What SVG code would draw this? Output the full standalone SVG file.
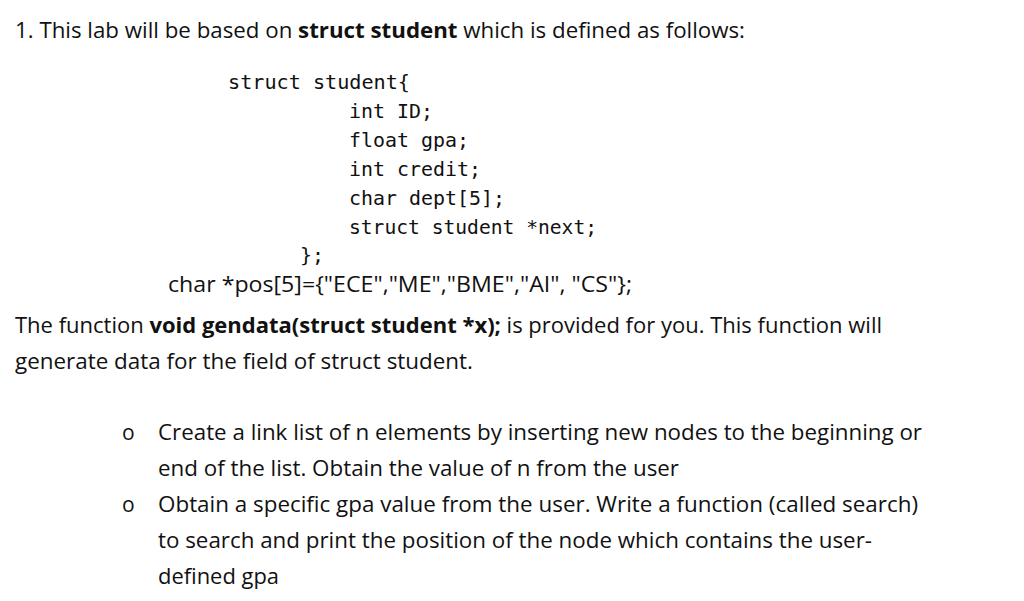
<svg xmlns="http://www.w3.org/2000/svg" width="1024" height="601" viewBox="0 0 1024 601">
<style>
.t{font-family:"Open Sans","Liberation Sans",sans-serif;font-size:21px;fill:#111}
.c{font-family:"DejaVu Sans Mono","Liberation Mono",monospace;font-size:19px;fill:#111}
.b{font-weight:bold}
</style>
<rect width="1024" height="601" fill="#fff"/>
<text class="t" x="15" y="38" textLength="730" lengthAdjust="spacingAndGlyphs">1. This lab will be based on <tspan class="b">struct student</tspan> which is defined as follows:</text>
<text class="c" x="228" y="89" textLength="182" lengthAdjust="spacingAndGlyphs">struct student{</text>
<text class="c" x="349" y="118" textLength="84" lengthAdjust="spacingAndGlyphs">int ID;</text>
<text class="c" x="349" y="147" textLength="120" lengthAdjust="spacingAndGlyphs">float gpa;</text>
<text class="c" x="349" y="176" textLength="132" lengthAdjust="spacingAndGlyphs">int credit;</text>
<text class="c" x="349" y="205" textLength="156" lengthAdjust="spacingAndGlyphs">char dept[5];</text>
<text class="c" x="349" y="234" textLength="248" lengthAdjust="spacingAndGlyphs">struct student *next;</text>
<text class="c" x="300" y="262" textLength="24" lengthAdjust="spacingAndGlyphs">};</text>
<text class="t" x="168" y="292" textLength="464" lengthAdjust="spacingAndGlyphs">char *pos[5]={"ECE","ME","BME","AI", "CS"};</text>
<text class="t" x="15" y="333" textLength="867" lengthAdjust="spacingAndGlyphs">The function <tspan class="b">void gendata(struct student *x);</tspan> is provided for you. This function will</text>
<text class="t" x="15" y="369" textLength="458" lengthAdjust="spacingAndGlyphs">generate data for the field of struct student.</text>
<text class="t" x="122" y="440">o</text>
<text class="t" x="158" y="440" textLength="764" lengthAdjust="spacingAndGlyphs">Create a link list of n elements by inserting new nodes to the beginning or</text>
<text class="t" x="158" y="476" textLength="521" lengthAdjust="spacingAndGlyphs">end of the list. Obtain the value of n from the user</text>
<text class="t" x="122" y="512">o</text>
<text class="t" x="158" y="512" textLength="760" lengthAdjust="spacingAndGlyphs">Obtain a specific gpa value from the user. Write a function (called search)</text>
<text class="t" x="158" y="548" textLength="714" lengthAdjust="spacingAndGlyphs">to search and print the position of the node which contains the user-</text>
<text class="t" x="158" y="584" textLength="121" lengthAdjust="spacingAndGlyphs">defined gpa</text>
</svg>
